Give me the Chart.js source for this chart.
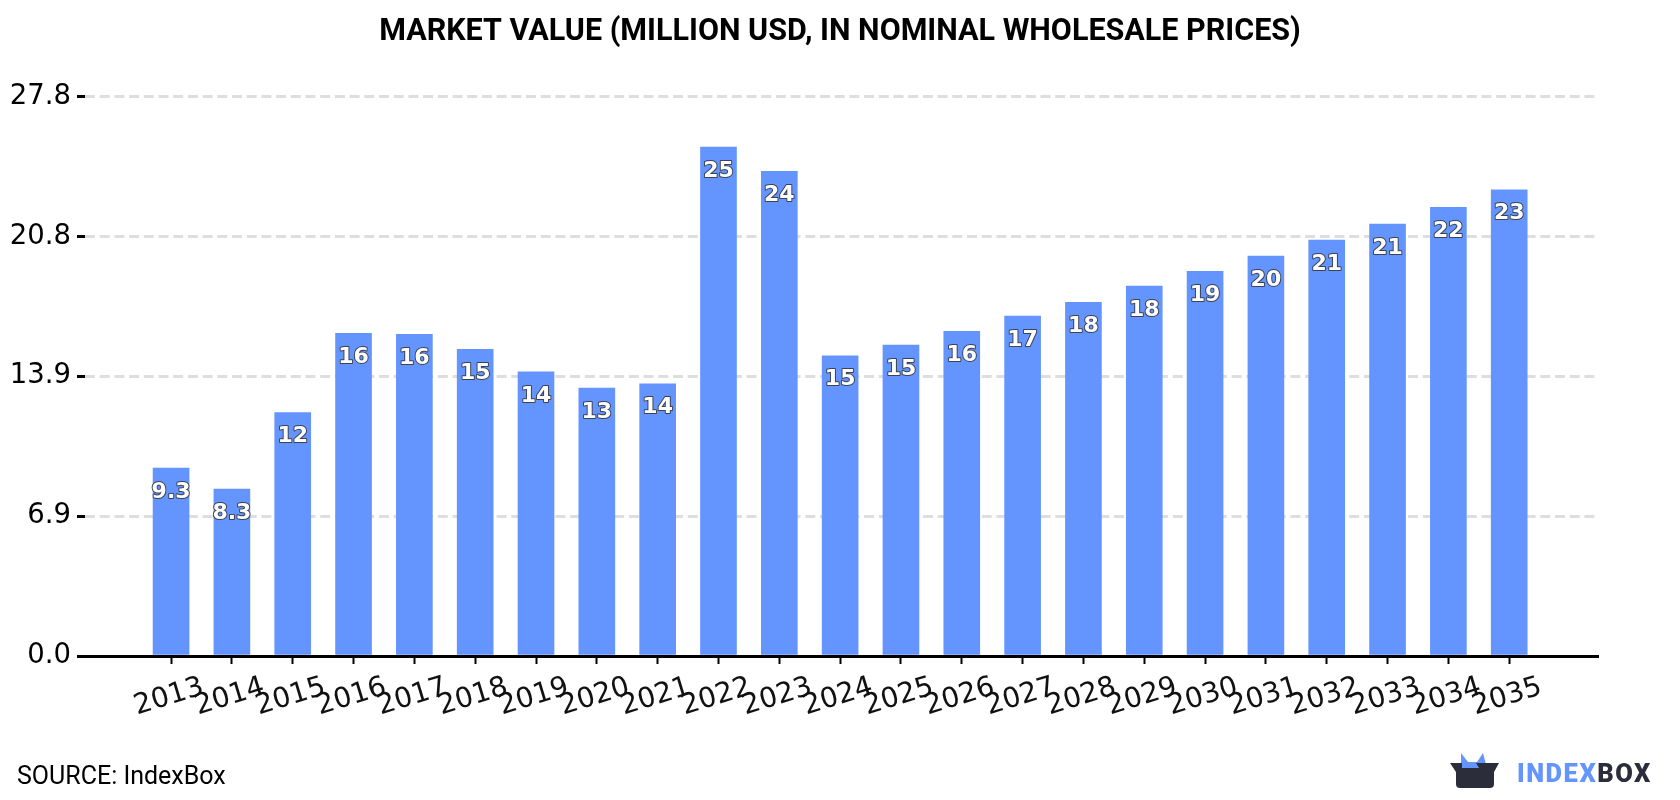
<!DOCTYPE html>
<html>
<head>
<meta charset="utf-8">
<title>Market value</title>
<script src="https://cdn.jsdelivr.net/npm/chart.js@4/dist/chart.umd.min.js"></script>
<style>
  html, body { margin: 0; padding: 0; background: #fff; }
  #wrap { position: relative; width: 1680px; height: 800px; overflow: hidden; }
  #source { position: absolute; left: 17px; top: 761px; font: 25px Roboto, sans-serif; color: #000; }
  #logo { position: absolute; left: 1450px; top: 750px; }
  #brand { position: absolute; left: 1517px; top: 758px; font: 900 25.5px Roboto, sans-serif; letter-spacing: 1.5px; color: #6495ff; }
  #brand span { color: #2b2d3a; }
</style>
</head>
<body>
<div id="wrap">
  <canvas id="chart" width="1680" height="800"></canvas>
  <div id="source">SOURCE: IndexBox</div>
  <svg id="logo" width="50" height="40" viewBox="0 0 50 40">
    <path d="M11 3 L18 12 L27 12 L33 3 L37 18 L11 18 Z" fill="#6495ff"/>
    <path d="M0 13 L12 13 L12 18 L29 18 L26 13 L49 13 L44 22 L44 34 Q44 38 40 38 L10 38 Q6 38 6 34 L6 22 Z" fill="#2b2d3a"/>
  </svg>
  <div id="brand">INDEX<span>BOX</span></div>
</div>
<script>
// ── Datos ────────────────────────────────────────────────────────────────
const YEARS = [2013, 2014, 2015, 2016, 2017, 2018, 2019, 2020, 2021, 2022, 2023, 2024,
  2025, 2026, 2027, 2028, 2029, 2030, 2031, 2032, 2033, 2034, 2035];
const VALUES = [9.34, 8.3, 12.1, 16.03, 15.98, 15.24, 14.12, 13.32, 13.53, 25.29, 24.09, 14.92,
  15.45, 16.14, 16.89, 17.58, 18.38, 19.12, 19.87, 20.67, 21.46, 22.3, 23.17];
const Y_TICKS = [0, 6.95, 13.9, 20.85, 27.8];
const Y_LABELS = ["0.0", "6.9", "13.9", "20.8", "27.8"];

const BAR_COLOR = "#6495ff";
const TICK_FONT = "DejaVu Sans";

// Dos cifras significativas: 9.34 → "9.3", 16.03 → "16"
const fmtValue = (v) => (v < 10 ? v.toFixed(1) : String(Math.round(v)));

// Valor blanco con contorno oscuro, dentro de cada barra
const barLabels = {
  id: "barLabels",
  afterDatasetsDraw(chart) {
    const { ctx } = chart;
    const meta = chart.getDatasetMeta(0);
    ctx.save();
    ctx.font = `bold 22px "${TICK_FONT}"`;
    ctx.textAlign = "center";
    ctx.textBaseline = "middle";
    ctx.lineJoin = "round";
    meta.data.forEach((bar, i) => {
      const txt = fmtValue(VALUES[i]);
      ctx.lineWidth = 2;
      ctx.strokeStyle = "#3c4250";
      ctx.strokeText(txt, bar.x, bar.y + 24);
      ctx.fillStyle = "#fff";
      ctx.fillText(txt, bar.x, bar.y + 24);
    });
    ctx.restore();
  },
};

// Años inclinados y centrados bajo su marca (Chart.js los alinearía a la derecha)
const yearLabels = {
  id: "yearLabels",
  afterDraw(chart) {
    const { ctx } = chart;
    const scale = chart.scales.x;
    ctx.save();
    ctx.font = `28px "${TICK_FONT}"`;
    ctx.fillStyle = "#111";
    ctx.textAlign = "center";
    ctx.textBaseline = "middle";
    YEARS.forEach((year) => {
      ctx.save();
      ctx.translate(scale.getPixelForValue(year) - 2, scale.top + 41);
      ctx.rotate((-17 * Math.PI) / 180);
      ctx.fillText(String(year), 0, 0);
      ctx.restore();
    });
    ctx.restore();
  },
};

new Chart(document.getElementById("chart").getContext("2d"), {
  type: "bar",
  data: {
    datasets: [{
      data: YEARS.map((year, i) => ({ x: year, y: VALUES[i] })),
      backgroundColor: BAR_COLOR,
      barThickness: 36,
    }],
  },
  plugins: [barLabels, yearLabels],
  options: {
    responsive: false,
    animation: false,
    plugins: {
      legend: { display: false },
      tooltip: { enabled: false },
      title: {
        display: true,
        text: "MARKET VALUE (MILLION USD, IN NOMINAL WHOLESALE PRICES)",
        color: "#000",
        font: { family: "Roboto", size: 30.5, weight: "bold" },
        padding: { top: 14, bottom: 46 },
      },
    },
    scales: {
      x: {
        type: "linear",
        min: 2011.585,
        max: 2036.46,
        offset: false,
        afterBuildTicks: (scale) => { scale.ticks = YEARS.map((value) => ({ value })); },
        afterFit: (scale) => { scale.height = 144; },
        ticks: { display: false },
        grid: { offset: false, drawOnChartArea: false, tickColor: "#000", tickWidth: 2, tickLength: 8 },
        border: { color: "#000", width: 3 },
      },
      y: {
        min: 0,
        max: 27.8,
        afterBuildTicks: (scale) => { scale.ticks = Y_TICKS.map((value) => ({ value })); },
        afterFit: (scale) => { scale.width = 85; },
        ticks: {
          color: "#000",
          padding: 6,
          font: { family: TICK_FONT, size: 27.5 },
          callback: (value, i) => Y_LABELS[i],
        },
        grid: { color: "#dedede", lineWidth: 3, tickColor: "#000", tickWidth: 3, tickLength: 8 },
        border: { display: false, dash: [10, 4.7] },
      },
      // eje vacío a la derecha: reserva el margen sin descentrar el título
      margen: {
        position: "right",
        afterFit: (scale) => { scale.width = 82; },
        ticks: { display: false },
        grid: { display: false },
        border: { display: false },
      },
    },
  },
});
</script>
</body>
</html>
